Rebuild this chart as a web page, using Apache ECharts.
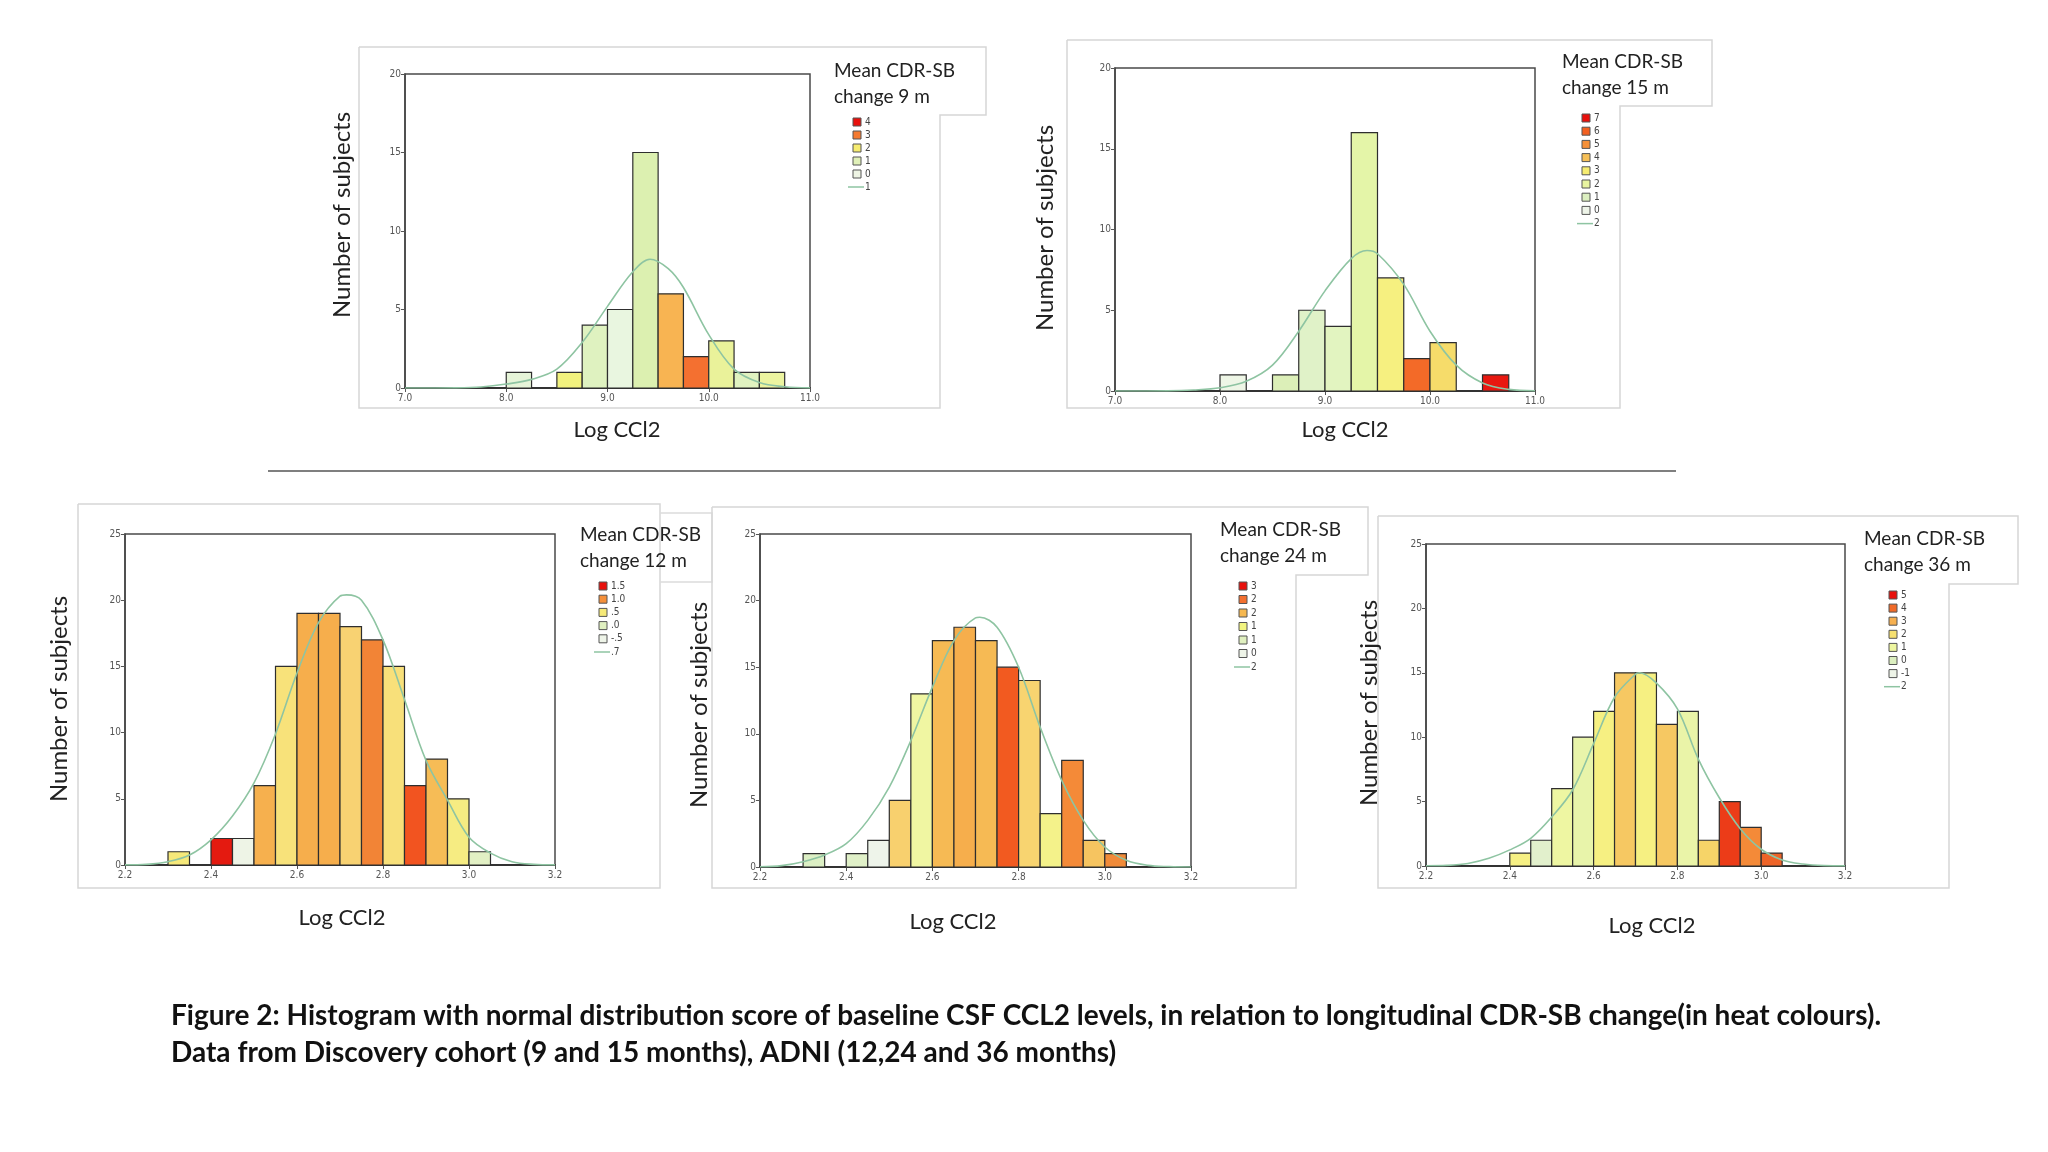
<!DOCTYPE html>
<html>
<head>
<meta charset="utf-8">
<script src="https://cdn.jsdelivr.net/npm/echarts@6/dist/echarts.min.js"></script>
<style>
  html, body { margin: 0; padding: 0; background: #fff; }
  #chart { width: 2048px; height: 1152px; }
</style>
</head>
<body>
<div id="chart"></div>
<script>
// axis ticks
const topXTicks = [7.0, 8.0, 9.0, 10.0, 11.0]
const topYTicks = [0, 5, 10, 15, 20]
const lowXTicks = [2.2, 2.4, 2.6, 2.8, 3.0, 3.2]
const lowYTicks = [0, 5, 10, 15, 20, 25]

// 9 months (Discovery)
const p1Edges = [8.0, 8.25, 8.5, 8.75, 9.0, 9.25, 9.5, 9.75, 10.0, 10.25, 10.5, 10.75]
const p1Counts = [1, 0, 1, 4, 5, 15, 6, 2, 3, 1, 1]
const p1CurveX = [7.0, 7.5, 7.75, 8.0, 8.25, 8.5, 8.75, 9.0, 9.25, 9.42, 9.6, 9.75, 10.0, 10.25, 10.5, 10.75, 11.0]
const p1CurveY = [0, 0.01, 0.06, 0.25, 0.55, 1.2, 2.9, 5.2, 7.4, 8.2, 7.6, 6.4, 3.4, 1.2, 0.35, 0.08, 0.01]
const p1Legend = ['4', '3', '2', '1', '0']
const p1LineLabel = '1'

// 15 months (Discovery)
const p2Edges = [8.0, 8.25, 8.5, 8.75, 9.0, 9.25, 9.5, 9.75, 10.0, 10.25, 10.5, 10.75]
const p2Counts = [1, 0, 1, 5, 4, 16, 7, 2, 3, 0, 1]
const p2CurveX = [7.0, 7.5, 7.75, 8.0, 8.25, 8.5, 8.75, 9.0, 9.25, 9.4, 9.5, 9.75, 10.0, 10.25, 10.5, 10.75, 11.0]
const p2CurveY = [0, 0.01, 0.06, 0.2, 0.6, 1.6, 3.7, 6.2, 8.2, 8.7, 8.5, 6.6, 3.7, 1.6, 0.5, 0.1, 0.01]
const p2Legend = ['7', '6', '5', '4', '3', '2', '1', '0']
const p2LineLabel = '2'

// 12 months (ADNI)
const p3Edges = [2.3, 2.35, 2.4, 2.45, 2.5, 2.55, 2.6, 2.65, 2.7, 2.75, 2.8, 2.85, 2.9, 2.95, 3.0, 3.05]
const p3Counts = [1, 0, 2, 2, 6, 15, 19, 19, 18, 17, 15, 6, 8, 5, 1]
const p3CurveX = [2.2, 2.25, 2.3, 2.35, 2.4, 2.45, 2.5, 2.55, 2.6, 2.65, 2.7, 2.715, 2.75, 2.8, 2.85, 2.9, 2.95, 3.0, 3.05, 3.1, 3.15, 3.2]
const p3CurveY = [0.01, 0.05, 0.25, 0.75, 1.9, 3.7, 6.2, 9.9, 14.5, 18.3, 20.3, 20.4, 20.0, 17.0, 12.5, 7.9, 4.9, 2.1, 0.9, 0.25, 0.05, 0.01]
const p3Legend = ['1.5', '1.0', '.5', '.0', '-.5']
const p3LineLabel = '.7'

// 24 months (ADNI)
const p4Edges = [2.3, 2.35, 2.4, 2.45, 2.5, 2.55, 2.6, 2.65, 2.7, 2.75, 2.8, 2.85, 2.9, 2.95, 3.0, 3.05]
const p4Counts = [1, 0, 1, 2, 5, 13, 17, 18, 17, 15, 14, 4, 8, 2, 1]
const p4CurveX = [2.2, 2.25, 2.3, 2.35, 2.4, 2.45, 2.5, 2.55, 2.6, 2.65, 2.7, 2.71, 2.75, 2.8, 2.85, 2.9, 2.95, 3.0, 3.05, 3.1, 3.15, 3.2]
const p4CurveY = [0.02, 0.1, 0.4, 0.9, 1.75, 3.5, 6.0, 9.5, 13.5, 17.0, 18.7, 18.75, 18.0, 15.0, 10.5, 6.5, 3.5, 1.5, 0.5, 0.12, 0.03, 0]
const p4Legend = ['3', '2', '2', '1', '1', '0']
const p4LineLabel = '2'

// 36 months (ADNI)
const p5Edges = [2.4, 2.45, 2.5, 2.55, 2.6, 2.65, 2.7, 2.75, 2.8, 2.85, 2.9, 2.95, 3.0, 3.05]
const p5Counts = [1, 2, 6, 10, 12, 15, 15, 11, 12, 2, 5, 3, 1]
const p5CurveX = [2.2, 2.25, 2.3, 2.35, 2.4, 2.45, 2.5, 2.55, 2.6, 2.65, 2.7, 2.71, 2.75, 2.8, 2.85, 2.9, 2.95, 3.0, 3.05, 3.1, 3.15, 3.2]
const p5CurveY = [0.02, 0.05, 0.2, 0.6, 1.25, 2.15, 3.8, 5.9, 9.5, 13.1, 14.9, 15.0, 14.2, 12.2, 8.3, 5.3, 2.9, 1.3, 0.47, 0.15, 0.03, 0.01]
const p5Legend = ['5', '4', '3', '2', '1', '0', '-1']
const p5LineLabel = '2'

// heat colours of the bars (one per bin)
const p1Colors = ['#e6f4d8', '#fff', '#f2f27e', '#dff2c0', '#e9f6e0', '#dcf0b0', '#f8b452', '#f47030', '#eaf29a', '#e0f2c0', '#ecf4a0']
const p2Colors = ['#eef6e6', '#fff', '#dcefb8', '#e0f2c8', '#e2f4c0', '#e4f5a8', '#f6f080', '#f36a28', '#f6dc6a', '#fff', '#e81810']
const p3Colors = ['#f6e97a', '#fff', '#e41a10', '#eef4e6', '#f6b04e', '#f8e27a', '#f6ae4c', '#f6ae4c', '#f8d272', '#f28436', '#f8e07a', '#f25420', '#f6bc56', '#f6ec82', '#e2f0c4']
const p4Colors = ['#dcefc4', '#fff', '#e0f0c8', '#eef4ea', '#f8d06e', '#f0f6a2', '#f6ba54', '#f6ae4c', '#f6ba54', '#f25a20', '#f8d470', '#f4f28a', '#f48a38', '#f6c460', '#f08a38']
const p5Colors = ['#f6f084', '#e2f0cc', '#eef6a2', '#e8f4aa', '#f6f082', '#f6c862', '#f6f082', '#f6c862', '#eaf4a8', '#f6d468', '#ec3c18', '#f48a38', '#ee6428']
const p1LegendColors = ['#e8100c', '#f47a30', '#f6ec70', '#e0f0b8', '#eef4e4']
const p2LegendColors = ['#e8100c', '#f26020', '#f59038', '#f6c058', '#f6ec70', '#e8f4a0', '#dcefc0', '#eef4e8']
const p3LegendColors = ['#e8100c', '#f5903a', '#f6ea78', '#e0f0c0', '#eef4e8']
const p4LegendColors = ['#e8100c', '#f27030', '#f6b850', '#f2f480', '#e0f0c0', '#eef4e8']
const p5LegendColors = ['#e8100c', '#f06a28', '#f6b050', '#f6e070', '#eef6a0', '#dcefc0', '#eef4e8']

const CURVE = '#8ec4a2'
const TICK_FONT = "'Liberation Sans Narrow', 'DejaVu Sans Condensed', 'Roboto Condensed', sans-serif"
const TEXT_FONT = "Lato, 'Open Sans', sans-serif"

const panels = [
  {
    grid: { left: 405, top: 74, width: 405, height: 314 },
    xt: topXTicks, yt: topYTicks,
    edges: p1Edges, counts: p1Counts, colors: p1Colors, cx: p1CurveX, cy: p1CurveY,
    legend: p1Legend, legendColors: p1LegendColors, lineLabel: p1LineLabel,
    title: ['Mean CDR-SB', 'change 9 m'], titlePos: [834, 71],
    legendPos: [857, 122, 13],
    xName: [617, 430], yName: [342, 215],
    frame: [[359, 47], [986, 47], [986, 115], [940, 115], [940, 408], [359, 408], [359, 47]],
  },
  {
    grid: { left: 1115, top: 68, width: 420, height: 323 },
    xt: topXTicks, yt: topYTicks,
    edges: p2Edges, counts: p2Counts, colors: p2Colors, cx: p2CurveX, cy: p2CurveY,
    legend: p2Legend, legendColors: p2LegendColors, lineLabel: p2LineLabel,
    title: ['Mean CDR-SB', 'change 15 m'], titlePos: [1562, 62],
    legendPos: [1586, 118, 13.2],
    xName: [1345, 430], yName: [1045, 228],
    frame: [[1067, 40], [1712, 40], [1712, 106], [1620, 106], [1620, 408], [1067, 408], [1067, 40]],
  },
  {
    grid: { left: 125, top: 534, width: 430, height: 331 },
    xt: lowXTicks, yt: lowYTicks,
    edges: p3Edges, counts: p3Counts, colors: p3Colors, cx: p3CurveX, cy: p3CurveY,
    legend: p3Legend, legendColors: p3LegendColors, lineLabel: p3LineLabel,
    title: ['Mean CDR-SB', 'change 12 m'], titlePos: [580, 535],
    legendPos: [603, 586, 13.2],
    xName: [342, 918], yName: [59, 699],
    frame: [[78, 504], [660, 504], [660, 888], [78, 888], [78, 504]],
    box: [[660, 513], [712, 513], [712, 582], [660, 582]],
  },
  {
    grid: { left: 760, top: 534, width: 431, height: 333 },
    xt: lowXTicks, yt: lowYTicks,
    edges: p4Edges, counts: p4Counts, colors: p4Colors, cx: p4CurveX, cy: p4CurveY,
    legend: p4Legend, legendColors: p4LegendColors, lineLabel: p4LineLabel,
    title: ['Mean CDR-SB', 'change 24 m'], titlePos: [1220, 530],
    legendPos: [1243, 586, 13.5],
    xName: [953, 922], yName: [699, 705],
    frame: [[712, 507], [1368, 507], [1368, 575], [1296, 575], [1296, 888], [712, 888], [712, 507]],
  },
  {
    grid: { left: 1426, top: 544, width: 419, height: 322 },
    xt: lowXTicks, yt: lowYTicks,
    edges: p5Edges, counts: p5Counts, colors: p5Colors, cx: p5CurveX, cy: p5CurveY,
    legend: p5Legend, legendColors: p5LegendColors, lineLabel: p5LineLabel,
    title: ['Mean CDR-SB', 'change 36 m'], titlePos: [1864, 539],
    legendPos: [1893, 595, 13.1],
    xName: [1652, 926], yName: [1369, 703],
    frame: [[1378, 516], [2018, 516], [2018, 584], [1949, 584], [1949, 888], [1378, 888], [1378, 516]],
  },
]

const chart = echarts.init(document.getElementById('chart'))

const grids = []
const xAxes = []
const yAxes = []
const series = []
const graphics = []

panels.forEach((p, i) => {
  grids.push({ ...p.grid, show: true, borderColor: '#4a4a4a', borderWidth: 1.5, backgroundColor: '#fff' })
  xAxes.push({
    gridIndex: i,
    type: 'value',
    min: p.xt[0],
    max: p.xt[p.xt.length - 1],
    interval: Math.round((p.xt[1] - p.xt[0]) * 100) / 100,
    splitLine: { show: false },
    axisLine: { onZero: false, lineStyle: { color: '#333', width: 2 } },
    axisTick: { show: true, length: 4, lineStyle: { color: '#555' } },
    axisLabel: {
      show: true, showMinLabel: true, showMaxLabel: true,
      fontSize: 10, color: '#555', margin: 5, fontFamily: TICK_FONT,
      formatter: v => v.toFixed(1),
    },
  })
  yAxes.push({
    gridIndex: i,
    type: 'value',
    min: p.yt[0],
    max: p.yt[p.yt.length - 1],
    interval: p.yt[1] - p.yt[0],
    splitLine: { show: false },
    axisLine: { show: true, lineStyle: { color: '#444', width: 1.5 } },
    axisTick: { show: true, length: 4, lineStyle: { color: '#555' } },
    axisLabel: { fontSize: 10, color: '#555', margin: 4, fontFamily: TICK_FONT },
  })
  series.push({
    type: 'custom',
    xAxisIndex: i,
    yAxisIndex: i,
    z: 2,
    encode: { x: [0, 1], y: 2 },
    data: p.counts.map((c, k) => ({
      value: [p.edges[k], p.edges[k + 1], c],
      itemStyle: { color: p.colors[k] },
    })),
    renderItem: (params, api) => {
      const n = api.value(2)
      if (!n) return null
      const a = api.coord([api.value(0), n])
      const b = api.coord([api.value(1), 0])
      return {
        type: 'rect',
        shape: { x: a[0], y: a[1], width: b[0] - a[0], height: b[1] - a[1] },
        style: { fill: api.visual('color'), stroke: '#2e2e2e', lineWidth: 1.2 },
      }
    },
  })
  series.push({
    type: 'line',
    xAxisIndex: i,
    yAxisIndex: i,
    z: 3,
    smooth: 0.35,
    showSymbol: false,
    symbol: 'none',
    lineStyle: { color: CURVE, width: 1.6 },
    data: p.cx.map((x, k) => [x, p.cy[k]]),
  })

  // panel frames
  graphics.push({
    type: 'polyline', z: -10,
    shape: { points: p.frame },
    style: { stroke: '#d6d6d6', lineWidth: 1.5, fill: null },
  })
  if (p.box) {
    graphics.push({
      type: 'polyline', z: -10,
      shape: { points: p.box },
      style: { stroke: '#dcdcdc', lineWidth: 1.5, fill: null },
    })
  }
  // legend title
  p.title.forEach((t, k) => {
    graphics.push({
      type: 'text', x: p.titlePos[0], y: p.titlePos[1] + k * 26,
      style: { text: t, font: '19px ' + TEXT_FONT, fill: '#222', textAlign: 'left', textVerticalAlign: 'middle' },
    })
  })
  // legend items
  const [lx, ly, step] = p.legendPos
  p.legend.forEach((lab, k) => {
    const y = ly + k * step
    graphics.push({
      type: 'rect',
      shape: { x: lx - 4, y: y - 4, width: 8, height: 8 },
      style: { fill: p.legendColors[k], stroke: '#555', lineWidth: 1 },
    })
    graphics.push({
      type: 'text', x: lx + 8, y: y,
      style: { text: lab, font: '10px ' + TICK_FONT, fill: '#444', textAlign: 'left', textVerticalAlign: 'middle' },
    })
  })
  const yl = ly + p.legend.length * step
  graphics.push({
    type: 'line',
    shape: { x1: lx - 9, y1: yl, x2: lx + 7, y2: yl },
    style: { stroke: CURVE, lineWidth: 1.5 },
  })
  graphics.push({
    type: 'text', x: lx + 8, y: yl,
    style: { text: p.lineLabel, font: '10px ' + TICK_FONT, fill: '#444', textAlign: 'left', textVerticalAlign: 'middle' },
  })
  // axis names
  graphics.push({
    type: 'text', x: p.xName[0], y: p.xName[1],
    style: { text: 'Log CCl2', font: '22px ' + TEXT_FONT, fill: '#222', textAlign: 'center', textVerticalAlign: 'middle' },
  })
  graphics.push({
    type: 'text', x: p.yName[0], y: p.yName[1], rotation: Math.PI / 2,
    style: { text: 'Number of subjects', font: '24px ' + TEXT_FONT, fill: '#222', textAlign: 'center', textVerticalAlign: 'middle' },
  })
})

// separator between the cohorts
graphics.push({
  type: 'line',
  shape: { x1: 268, y1: 471, x2: 1676, y2: 471 },
  style: { stroke: '#555', lineWidth: 1.5 },
})

// caption
const caption = [
  'Figure 2: Histogram with normal distribution score of baseline CSF CCL2 levels, in relation to longitudinal CDR-SB change(in heat colours).',
  'Data from Discovery cohort (9 and 15 months), ADNI (12,24 and 36 months)',
]
caption.forEach((t, k) => {
  graphics.push({
    type: 'text', x: 171, y: 1016 + k * 37,
    style: { text: t, font: 'bold 28px ' + TEXT_FONT, fill: '#111', textAlign: 'left', textVerticalAlign: 'middle' },
  })
})

chart.setOption({
  animation: false,
  backgroundColor: '#fff',
  grid: grids,
  xAxis: xAxes,
  yAxis: yAxes,
  series: series,
  graphic: graphics,
})
</script>
</body>
</html>
